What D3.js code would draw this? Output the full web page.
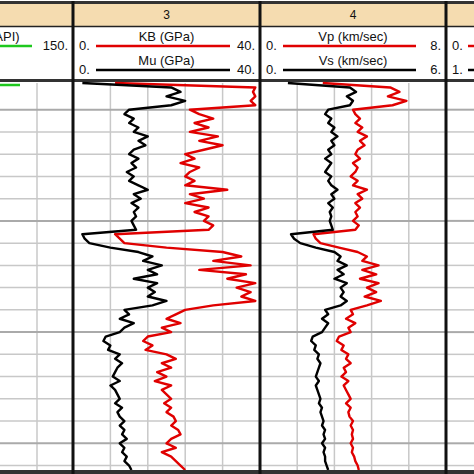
<!DOCTYPE html>
<html><head><meta charset="utf-8">
<script src="https://cdn.jsdelivr.net/npm/d3@7/dist/d3.min.js"></script>
<style>body{margin:0;background:#fff}svg{display:block}text{font-family:"Liberation Sans",Arial,sans-serif;fill:#111}</style>
</head><body>
<script>
const depthStart = 2988, depthStep = 2;
const mu = [2,21,23,20,24,21,12,11,13,12,14,13,16,14,15.5,13,12,14,12.5,13.5,11.5,13,12,14,16,13,14.5,12.5,14,13,13.5,12.5,13,13.5,2,2.5,3.5,8,14,17,15,19,16,18,13,18,16,17.5,16,20,17,11,12,10,13,11,10,7,6.5,8,7.5,10,9,10.5,9.5,9,8.5,10,8,9,9.5,10,9,10.5,9.5,10,11,10,11,10.5,11.5,10,11,10.5,11.5,11,12,12.5];
const kb = [9,39,38.5,39,38,39,25,27,30,26,29,25,31,27,32,28,24,26,23,27,25,24,26,24,33,25,28,24,29,26,29,28,30,29,9,10,11,20,32,36,30,38,27,37,33,39,35,38,36,39,30,24,22,20,23,19,21,16,15,17,15.5,20,22,19,21,18,20,17.5,21,19,20,21,19.5,21,20,21.5,22,21,22.5,23,21,20,22,19,21,22,23,24];
const vs = [0.9,2.9,3.1,2.8,3.0,2.9,2.2,2.1,2.3,2.2,2.4,2.3,2.5,2.3,2.4,2.2,2.3,2.1,2.3,2.2,2.1,2.3,2.2,2.3,2.5,2.3,2.4,2.2,2.35,2.25,2.3,2.25,2.3,2.35,1.0,1.1,1.3,1.8,2.4,2.6,2.5,2.8,2.5,2.7,2.4,2.8,2.6,2.7,2.6,2.8,2.6,2.1,2.2,2.0,2.2,2.1,2.0,1.7,1.65,1.8,1.75,1.9,1.85,1.95,1.9,1.85,1.8,1.9,1.8,1.85,1.9,1.95,1.9,2.0,1.95,2.0,2.05,2.0,2.1,2.05,2.1,2.0,2.1,2.05,2.1,2.1,2.15,2.2];
const vp = [2.7,5.6,6.0,5.5,6.3,5.7,4.0,4.1,4.3,4.1,4.4,4.2,4.6,4.3,4.5,4.2,4.1,4.3,4.0,4.2,4.1,3.9,4.2,4.0,4.6,4.2,4.4,4.1,4.3,4.1,4.2,4.0,4.25,4.1,2.3,2.4,2.6,3.4,4.2,4.6,4.4,5.1,4.4,5.0,4.3,5.1,4.6,5.0,4.5,5.2,4.6,3.9,4.0,3.7,4.1,3.8,3.9,3.4,3.3,3.6,3.5,3.8,3.7,3.9,3.6,3.7,3.5,3.8,3.6,3.7,3.8,3.9,3.7,3.9,3.8,3.85,4.0,3.9,4.0,3.95,4.0,3.9,4.0,3.95,4.05,4.1,4.2,4.25];
const trackNames = ["3","4"];
const legends3 = [{name:"KB (GPa)",min:"0.",max:"40.",color:"#e00000"},{name:"Mu (GPa)",min:"0.",max:"40.",color:"#000"}];
const legends4 = [{name:"Vp (km/sec)",min:"0.",max:"8.",color:"#e00000"},{name:"Vs (km/sec)",min:"0.",max:"6.",color:"#000"}];

const W=474,H=474;
const svg=d3.select("body").append("svg").attr("width",W).attr("height",H);
const yTop=83,yBot=470;
const y=d3.scaleLinear().domain([2988,3162]).range([yTop,yBot]);
const depths=mu.map((_,i)=>depthStart+i*depthStep);
const tracks=[[0,73],[73,260],[260,446],[446,474]];

svg.append("rect").attr("x",0).attr("y",4).attr("width",W).attr("height",22).attr("fill","#f5dcb0");
svg.append("rect").attr("x",0).attr("y",1).attr("width",W).attr("height",3).attr("fill","#333");
svg.append("line").attr("x1",0).attr("x2",W).attr("y1",26.5).attr("y2",26.5).attr("stroke","#222").attr("stroke-width",1.5);
svg.append("rect").attr("x",0).attr("y",79).attr("width",W).attr("height",3).attr("fill","#333");

const gridTicks=d3.range(3000,3162,10);
tracks.forEach(([a,b],k)=>{
  const g=svg.append("g");
  const xs = k===0?[37]:k===3?[]:d3.range(1,5).map(j=>a+(b-a)*j/5);
  xs.forEach(x=>g.append("line").attr("x1",x).attr("x2",x).attr("y1",yTop).attr("y2",yBot).attr("stroke","#c8c8c8").attr("stroke-width",1.5));
  gridTicks.forEach(d=>g.append("line").attr("x1",a).attr("x2",b).attr("y1",y(d)).attr("y2",y(d)).attr("stroke",(d%50===0)?"#aaa":"#c8c8c8").attr("stroke-width",(d%50===0)?2:1.5));
});

function drawTrack(x0,x1,num,legs,scales,curves){
  svg.append("text").attr("x",(x0+x1)/2).attr("y",19).attr("text-anchor","middle").attr("font-size",12).text(num);
  legs.forEach((L,i)=>{
    const ly=i*24;
    svg.append("text").attr("x",(x0+x1)/2).attr("y",41+ly).attr("text-anchor","middle").attr("font-size",13).text(L.name);
    svg.append("text").attr("x",x0+6).attr("y",50+ly).attr("font-size",13).text(L.min);
    svg.append("text").attr("x",x1-5).attr("y",50+ly).attr("text-anchor","end").attr("font-size",13).text(L.max);
    svg.append("line").attr("x1",x0+23).attr("x2",x1-30).attr("y1",46+ly).attr("y2",46+ly).attr("stroke",L.color).attr("stroke-width",2.5);
  });
  curves.forEach((c,i)=>{
    const x=scales[i];
    svg.append("path").datum(c.data).attr("fill","none").attr("stroke",c.color).attr("stroke-width",2.4)
      .attr("stroke-linejoin","round")
      .attr("d",d3.line().x(v=>x(v)).y((v,j)=>y(depths[j])).curve(d3.curveLinear));
  });
}
const x3=d3.scaleLinear().domain([0,40]).range([73,260]);
drawTrack(73,260,trackNames[0],legends3,[x3,x3],[{data:kb,color:"#e00000"},{data:mu,color:"#000"}]);
drawTrack(260,446,trackNames[1],legends4,[d3.scaleLinear().domain([0,8]).range([260,446]),d3.scaleLinear().domain([0,6]).range([260,446])],[{data:vp,color:"#e00000"},{data:vs,color:"#000"}]);

svg.append("text").attr("x",-10).attr("y",41).attr("font-size",13).text("(API)");
svg.append("line").attr("x1",0).attr("x2",32).attr("y1",46).attr("y2",46).attr("stroke","#1ec81e").attr("stroke-width",2.5);
svg.append("text").attr("x",68).attr("y",50).attr("text-anchor","end").attr("font-size",13).text("150.");
svg.append("line").attr("x1",0).attr("x2",20).attr("y1",85).attr("y2",85).attr("stroke","#1ec81e").attr("stroke-width",2.5);
svg.append("text").attr("x",452).attr("y",50).attr("font-size",13).text("0.");
svg.append("line").attr("x1",468).attr("x2",474).attr("y1",46).attr("y2",46).attr("stroke","#e00000").attr("stroke-width",2.5);
svg.append("text").attr("x",452).attr("y",74).attr("font-size",13).text("1.");
svg.append("line").attr("x1",468).attr("x2",474).attr("y1",70).attr("y2",70).attr("stroke","#000").attr("stroke-width",2.5);

svg.append("rect").attr("x",0).attr("y",470).attr("width",W).attr("height",4).attr("fill","#333");
[73,260,446].forEach(x=>svg.append("rect").attr("x",x-1.5).attr("y",1).attr("width",3).attr("height",H-1).attr("fill","#111"));
</script>
</body></html>
